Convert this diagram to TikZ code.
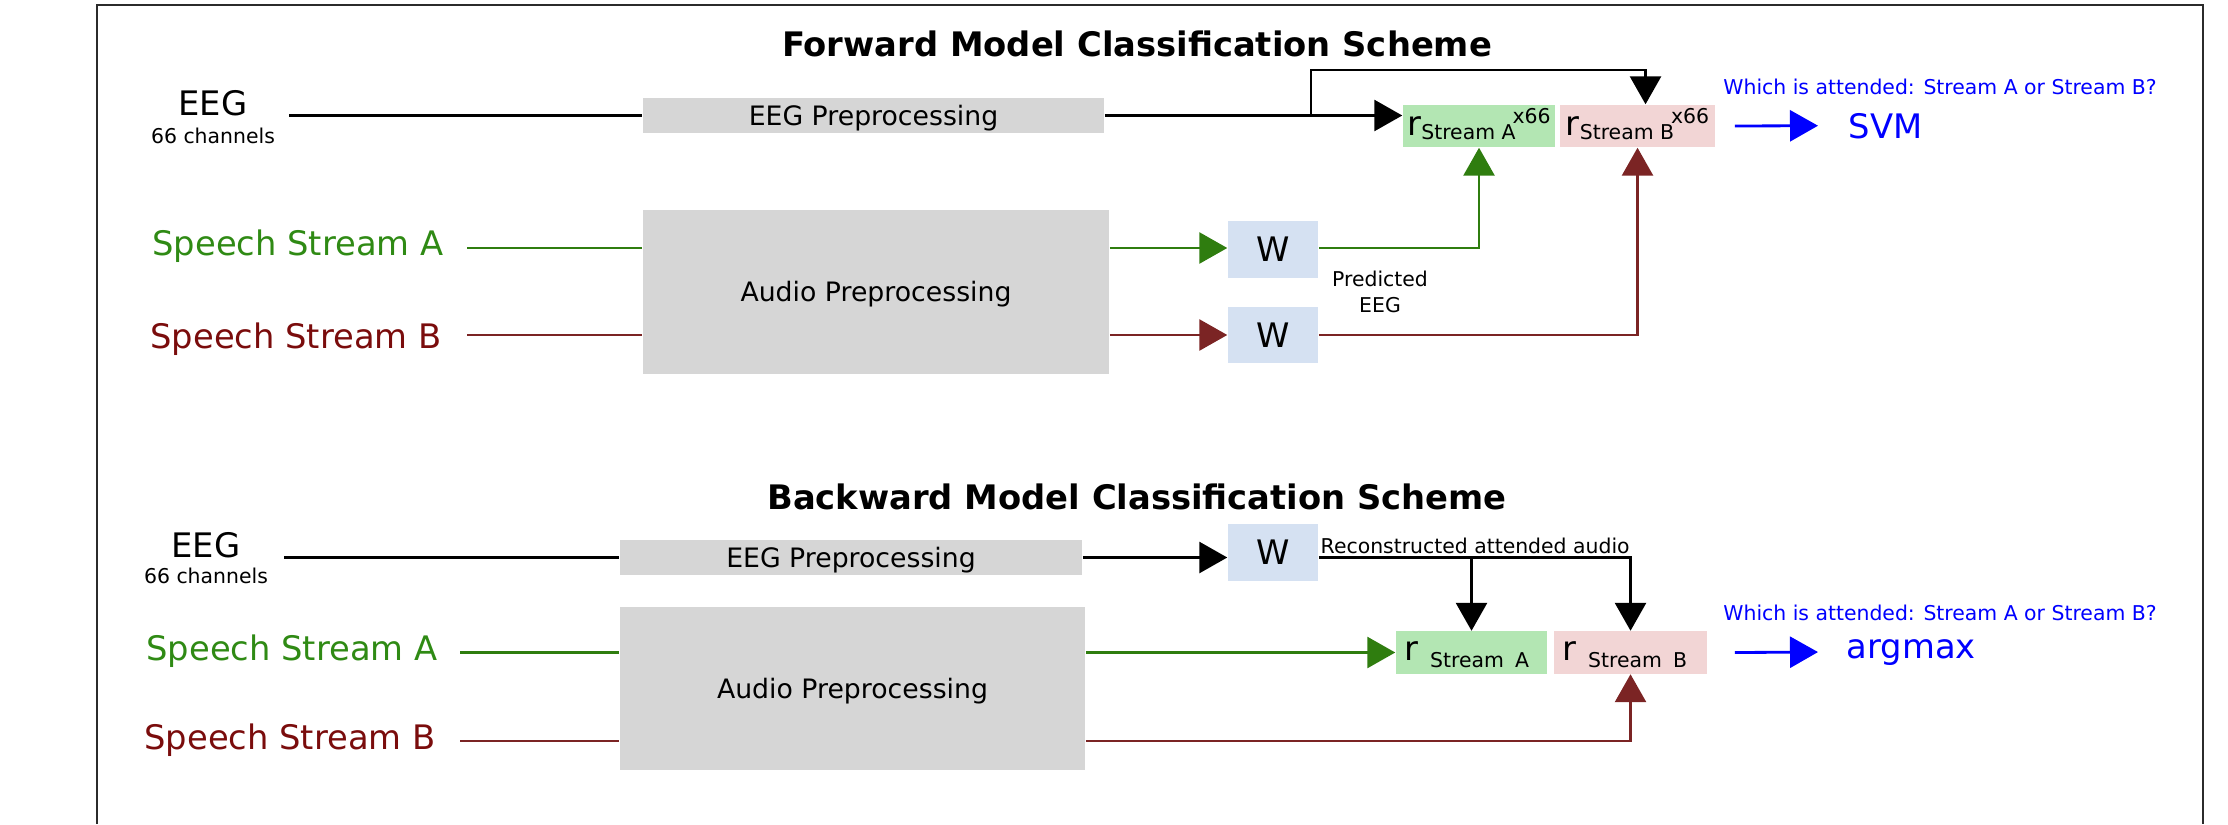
\documentclass[tikz,border=0pt]{standalone}
\usepackage{fontspec}
\setmainfont{DejaVu Sans}
\usepackage{xcolor}
\usetikzlibrary{calc,positioning,arrows.meta}
\definecolor{speechgreen}{HTML}{2F8A14}
\definecolor{speechred}{HTML}{7A0C0C}
\definecolor{linegreen}{HTML}{2F7D0F}
\definecolor{linered}{HTML}{7B2424}
\definecolor{boxgray}{HTML}{D6D6D6}
\definecolor{boxgreen}{HTML}{B3E6B3}
\definecolor{boxpink}{HTML}{F2D5D5}
\definecolor{boxblue}{HTML}{D5E1F2}
\definecolor{attblue}{HTML}{0000FF}
\definecolor{framegray}{HTML}{2B2B2B}

\newcommand{\rfwd}[1]{r\raisebox{-0.04cm}{\fontsize{5.8}{7}\selectfont Stream #1}\hspace{-0.03cm}\raisebox{0.12cm}{\fontsize{5.8}{7}\selectfont x66}}
\newcommand{\rbwd}[1]{r\raisebox{-0.07cm}{\fontsize{5.8}{7}\selectfont\ Stream #1}}

\tikzset{
  bigfont/.style={font=\fontsize{9.6}{11.5}\selectfont},
  titlefont/.style={font=\fontsize{9.6}{11.5}\selectfont\bfseries},
  midfont/.style={font=\fontsize{7.6}{9}\selectfont},
  smallfont/.style={font=\fontsize{5.8}{7.4}\selectfont},
  txt/.style={inner sep=0pt, anchor=base},
  prepbox/.style={fill=boxgray, midfont, inner sep=0pt, text height=5.5pt, text depth=0pt},
  wbox/.style={fill=boxblue, bigfont, inner sep=0pt, minimum width=0.9cm, text height=7pt, text depth=0pt},
  rbox/.style={bigfont, inner sep=0pt, minimum height=0.42cm, text depth=0pt},
  sigline/.style={line width=0.8pt},
  sigarrow/.style={sigline, -{Triangle[length=0.28cm, width=0.31cm]}},
}

\begin{document}
\begin{tikzpicture}[x=0.01cm, y=-0.01cm]
\useasboundingbox (0,0) rectangle (2228,824);

% Frame
\draw[framegray, line width=0.6pt] (97,824) -- (97,5) -- (2203,5) -- (2203,824);

% Forward model
\node[txt, titlefont] (ftitle) at (1137,57) {Forward Model Classification Scheme};
\node[txt, bigfont] (feeg) at (213,115) {EEG};
\node[txt, smallfont] (fchan) at (213,143) {66 channels};
\node[txt, bigfont, text=speechgreen] (fspa) at (298,255) {Speech Stream A};
\node[txt, bigfont, text=speechred] (fspb) at (296,348) {Speech Stream B};

\node[prepbox, minimum width=4.61cm, minimum height=0.35cm] (feegpre) at (873.5,115.5) {EEG Preprocessing};
\node[prepbox, minimum width=4.66cm, minimum height=1.64cm] (faudio) at (876,292) {Audio Preprocessing};
\node[wbox, minimum height=0.57cm] (fwa) at (1273,249.5) {W};
\node[wbox, minimum height=0.56cm] (fwb) at (1273,335) {W};
\node[rbox, fill=boxgreen, minimum width=1.52cm, text height=0.18cm] (fra) at (1479,126) {\rfwd{A}};
\node[rbox, fill=boxpink, minimum width=1.55cm, text height=0.18cm] (frb) at (1637.5,126) {\rfwd{B}};

\node[txt, smallfont, align=center, anchor=center] (fpred) at (1380,292) {Predicted\\EEG};
\node[txt, smallfont, text=attblue] (fquest) at (1940,94) {Which is attended: Stream A or Stream B?};
\node[txt, bigfont, text=attblue, anchor=base west] (fsvm) at (1848,138) {SVM};

\coordinate (feegin) at (289,115.5);
\coordinate (fspain) at (467,248);
\coordinate (fspbin) at (467,335);
\coordinate (fsplit) at (1311,115.5);
\coordinate (fhigh) at (1311,70);

\draw[sigline] (feegin) -- (feegpre.west);
\draw[sigarrow] (feegpre.east) -- (fra.west |- feegpre.east);
\draw[sigarrow] (fsplit) -- (fhigh) -| ([xshift=0.08cm]frb.north);
\draw[sigline, linegreen] (fspain) -- (fspain -| faudio.west);
\draw[sigarrow, linegreen] (fspain -| faudio.east) -- (fspain -| fwa.west);
\draw[sigarrow, linegreen] (fspain -| fwa.east) -| (fra.south);
\draw[sigline, linered] (fspbin) -- (fspbin -| faudio.west);
\draw[sigarrow, linered] (fspbin -| faudio.east) -- (fwb.west);
\draw[sigarrow, linered] (fwb.east) -| (frb.south);
\draw[sigarrow, attblue] ([xshift=0.19cm]frb.east) -- ([xshift=-0.30cm]fsvm.west);

% Backward model
\node[txt, titlefont] (btitle) at (1137,509) {Backward Model Classification Scheme};
\node[txt, bigfont] (beeg) at (206,557) {EEG};
\node[txt, smallfont] (bchan) at (206,583) {66 channels};
\node[txt, bigfont, text=speechgreen] (bspa) at (292,660) {Speech Stream A};
\node[txt, bigfont, text=speechred] (bspb) at (290,749) {Speech Stream B};

\node[prepbox, minimum width=4.62cm, minimum height=0.35cm] (beegpre) at (851,557.5) {EEG Preprocessing};
\node[prepbox, minimum width=4.65cm, minimum height=1.63cm] (baudio) at (852.5,688.5) {Audio Preprocessing};
\node[wbox, minimum height=0.57cm] (bw) at (1273,552.5) {W};
\node[rbox, fill=boxgreen, minimum width=1.51cm, text height=0.15cm, text width=1.33cm, align=left] (bra) at (1471.5,652.5) {\rbwd{A}};
\node[rbox, fill=boxpink, minimum width=1.53cm, text height=0.15cm, text width=1.35cm, align=left] (brb) at (1630.5,652.5) {\rbwd{B}};

\node[txt, smallfont, anchor=base west] (brec) at (1320,553) {Reconstructed attended audio};
\node[txt, smallfont, text=attblue] (bquest) at (1940,620) {Which is attended: Stream A or Stream B?};
\node[txt, bigfont, text=attblue, anchor=base west] (bargmax) at (1846,658) {argmax};

\coordinate (beegin) at (284,557.5);
\coordinate (bspain) at (460,652.5);
\coordinate (bspbin) at (460,741);
\coordinate (bjoin) at (bra.north |- beegpre.east);

\draw[sigline] (beegin) -- (beegpre.west);
\draw[sigarrow] (beegpre.east) -- (bw.west |- beegpre.east);
\draw[sigarrow] (bw.east |- beegpre.east) -| (brb.north);
\draw[sigarrow] (bjoin) -- (bra.north);
\draw[sigline, linegreen] (bspain) -- (bspain -| baudio.west);
\draw[sigarrow, linegreen] (bspain -| baudio.east) -- (bra.west);
\draw[sigline, linered] (bspbin) -- (bspbin -| baudio.west);
\draw[sigarrow, linered] (bspbin -| baudio.east) -| (brb.south);
\draw[sigarrow, attblue] ([xshift=0.27cm]brb.east) -- ([xshift=-0.28cm]bargmax.west);

\end{tikzpicture}
\end{document}
